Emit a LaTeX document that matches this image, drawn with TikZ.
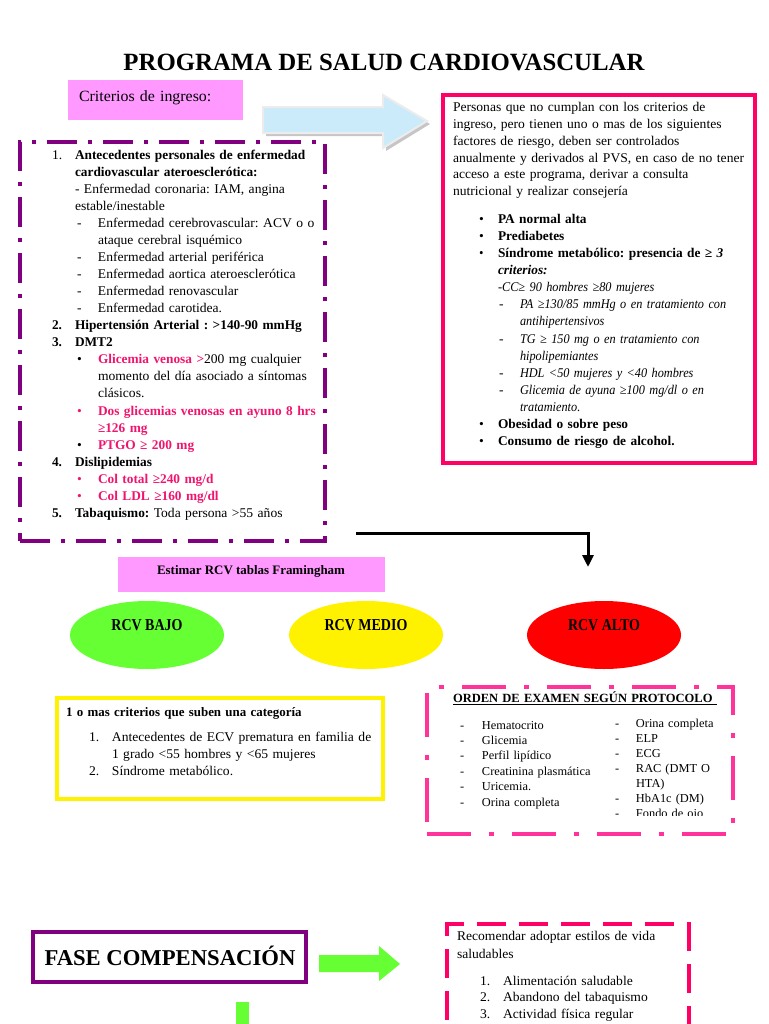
\documentclass[tikz,border=0pt]{standalone}
\usepackage{fontspec}
\setmainfont{Liberation Serif}[UprightFeatures={FakeStretch=1.02}, ItalicFeatures={FakeStretch=0.92}]
\newfontfamily\tms{Liberation Serif}
\usepackage{graphicx}
\usetikzlibrary{shapes.geometric,arrows.meta}
\definecolor{purp}{RGB}{128,0,128}
\definecolor{pinkfill}{RGB}{255,153,255}
\definecolor{rosa}{RGB}{255,0,102}
\definecolor{rosab}{RGB}{255,51,153}
\definecolor{txtpink}{RGB}{240,20,110}
\definecolor{lgreen}{RGB}{102,255,51}
\definecolor{lblue}{RGB}{204,235,250}
\newcommand{\fsz}[2]{\fontsize{#1}{#2}\selectfont}
\newcommand{\nA}[1]{\makebox[17.25pt][l]{#1}}
\newcommand{\sA}[1]{\hspace*{18.75pt}\makebox[15.75pt][l]{#1}}
\newcommand{\cA}{\hspace*{34.5pt}}
\newcommand{\pk}[1]{\textcolor{txtpink}{#1}}
\newcommand{\boxnode}[6]{\node[#1, inner sep=0pt, outer sep=0pt, anchor=north west, minimum width={(#4-#2)*0.75pt}, minimum height={(#5-#3)*0.75pt}] (#6) at (#2,#3) {};}
\tikzset{
  x=0.75pt, y=-0.75pt,
  txt/.style={inner sep=0pt, outer sep=0pt, anchor=base west, text width=300pt, align=left},
  purpbox/.style={draw=purp, line width=3pt, dash pattern=on 22.5pt off 8.25pt on 3pt off 8.25pt},
  rosabox/.style={draw=rosa, line width=3pt},
  ordenbox/.style={draw=rosab, line width=3.2pt, dash pattern=on 33pt off 13.5pt on 3.75pt off 13.5pt},
  vidabox/.style={draw=rosa, line width=3pt, dash pattern=on 21.75pt off 9.75pt},
  yelbox/.style={draw=yellow, line width=2.5pt},
  pinkbox/.style={fill=pinkfill},
  fasebox/.style={draw=purp, line width=2.5pt},
  rcv/.style={ellipse, inner sep=0pt, minimum width=115.5pt, minimum height=51pt},
  rcvtxt/.style={font=\tms\bfseries\fsz{12.5}{14}, inner sep=0pt},
  conn/.style={line width=2.25pt, -{Triangle[length=9pt,width=8.25pt]}},
}
\begin{document}
\frenchspacing
\begin{tikzpicture}
\useasboundingbox (0,0) rectangle (768,1024);
\clip (0,0) rectangle (768,1024);

% title
\node[font=\tms\bfseries\fsz{18.6}{20}, inner sep=0pt] (title) at (384,62) {PROGRAMA DE SALUD CARDIOVASCULAR};

% criterios de ingreso
\boxnode{pinkbox}{68}{80}{243}{120}{crit}
\node[txt, font=\fsz{11.7}{13}] (crittitle) at (79,102) {Criterios de ingreso:};

% blue block arrow
\fill[gray!45, shift={(3,3)}] (263,107) -- (383,107) -- (383,95) -- (427,121) -- (383,148) -- (383,133) -- (263,133) -- cycle;
\filldraw[fill=lblue, draw=gray!15, line width=1.5pt] (263,107) -- (383,107) -- (383,95) -- (427,121) -- (383,148) -- (383,133) -- (263,133) -- cycle;

% purple criteria box
\boxnode{purpbox}{20}{142}{325}{541}{critbox}
\node[txt, font=\fsz{10}{12.8}] (crittxt) at (52,159) {%
\nA{1.}\textbf{Antecedentes personales de enfermedad}\\
\hspace*{17.25pt}\textbf{cardiovascular ateroesclerótica:}\\
\hspace*{17.25pt}- Enfermedad coronaria: IAM, angina\\
\hspace*{17.25pt}estable/inestable\\
\sA{-}Enfermedad cerebrovascular: ACV o o\\
\cA ataque cerebral isquémico\\
\sA{-}Enfermedad arterial periférica\\
\sA{-}Enfermedad aortica ateroesclerótica\\
\sA{-}Enfermedad renovascular\\
\sA{-}Enfermedad carotidea.\\
\nA{\textbf{2.}}\textbf{Hipertensión Arterial : >140-90 mmHg}\\
\nA{\textbf{3.}}\textbf{DMT2}\\
\sA{\textbullet}\pk{\textbf{Glicemia venosa >}}200 mg cualquier\\
\cA momento del día asociado a síntomas\\
\cA clásicos.\\
\sA{\pk{\textbullet}}\pk{\textbf{Dos glicemias venosas en ayuno 8 hrs}}\\
\cA\pk{\textbf{≥126 mg}}\\
\sA{\textbullet}\pk{\textbf{PTGO ≥ 200 mg}}\\
\nA{\textbf{4.}}\textbf{Dislipidemias}\\
\sA{\pk{\textbullet}}\pk{\textbf{Col total ≥240 mg/d}}\\
\sA{\pk{\textbullet}}\pk{\textbf{Col LDL ≥160 mg/dl}}\\
\nA{\textbf{5.}}\textbf{Tabaquismo:} Toda persona >55 años};

% right pink box
\boxnode{rosabox}{443}{95}{755}{463}{factbox}
\node[txt, font=\fsz{10}{12.5}] (perstxt) at (453,112) {%
Personas que no cumplan con los criterios de\\
ingreso, pero tienen uno o mas de los siguientes\\
factores de riesgo, deben ser controlados\\
anualmente y derivados al PVS, en caso de no tener\\
acceso a este programa, derivar a consulta\\
nutricional y realizar consejería};
\node[txt, font=\fsz{10}{12.86}] (factxt) at (479,223) {%
\makebox[14.25pt][l]{\textbullet}\textbf{PA normal alta}\\
\makebox[14.25pt][l]{\textbullet}\textbf{Prediabetes}\\
\makebox[14.25pt][l]{\textit{\textbullet}}\textbf{Síndrome metabólico: presencia de \textit{≥ 3}}\\
\hspace*{14.25pt}\textbf{\textit{criterios:}}\\
\hspace*{14.25pt}\textit{-CC≥ 90 hombres ≥80 mujeres}\\
\hspace*{15pt}\makebox[15.75pt][l]{-}\textit{PA ≥130/85 mmHg o en tratamiento con}\\
\hspace*{30.75pt}\textit{antihipertensivos}\\
\hspace*{15pt}\makebox[15.75pt][l]{-}\textit{TG ≥ 150 mg o en tratamiento con}\\
\hspace*{30.75pt}\textit{hipolipemiantes}\\
\hspace*{15pt}\makebox[15.75pt][l]{-}\textit{HDL <50 mujeres y <40 hombres}\\
\hspace*{15pt}\makebox[15.75pt][l]{-}\textit{Glicemia de ayuna ≥100 mg/dl o en}\\
\hspace*{30.75pt}\textit{tratamiento.}\\
\makebox[14.25pt][l]{\textbullet}\textbf{Obesidad o sobre peso}\\
\makebox[14.25pt][l]{\textbullet}\textbf{Consumo de riesgo de alcohol.}};

% connector
\coordinate (c1) at (356,533);
\coordinate (c2) at (588,533);
\coordinate (c3) at (588,567);
\draw[conn] (c1) -- (c2) -- (c3);

% estimar
\boxnode{pinkbox}{118}{557}{385}{592}{estimar}
\node[font=\bfseries\fsz{9.7}{11}, inner sep=0pt] (esttxt) at (251,571) {Estimar RCV tablas Framingham};

% ellipses
\node[rcv, fill=lgreen] (bajo) at (147,635) {};
\node[rcv, fill=yellow] (medio) at (366,635) {};
\node[rcv, fill=red] (alto) at (604,635) {};
\node[rcvtxt] (bajotxt) at (147,625) {\scalebox{0.84}[1]{RCV BAJO}};
\node[rcvtxt] (mediotxt) at (366,625) {\scalebox{0.84}[1]{RCV MEDIO}};
\node[rcvtxt] (altotxt) at (604,625) {\scalebox{0.84}[1]{RCV ALTO}};

% yellow box
\boxnode{yelbox}{57}{698}{383}{799}{ybox}
\node[txt, font=\bfseries\fsz{9.7}{12}] (ytitle) at (66,716) {1 o mas criterios que suben una categoría};
\node[txt, font=\fsz{10}{12.75}] (ylist) at (89,741) {%
\makebox[17.25pt][l]{1.}Antecedentes de ECV prematura en familia de\\
\hspace*{17.25pt}1 grado <55 hombres y <65 mujeres\\
\makebox[17.25pt][l]{2.}Síndrome metabólico.};

% orden box
\boxnode{ordenbox}{427}{687}{733}{834}{obox}
\node[txt, font=\tms\bfseries\fsz{9.4}{11}] (otitle) at (453,702) {\underline{ORDEN DE EXAMEN SEGÚN PROTOCOLO\ }};
\node[txt, font=\fsz{9.1}{11.55}] (oleft) at (460,729) {%
\makebox[16.5pt][l]{-}Hematocrito\\
\makebox[16.5pt][l]{-}Glicemia\\
\makebox[16.5pt][l]{-}Perfil lipídico\\
\makebox[16.5pt][l]{-}Creatinina plasmática\\
\makebox[16.5pt][l]{-}Uricemia.\\
\makebox[16.5pt][l]{-}Orina completa};
\begin{scope}
\clip (600,705) rectangle (730,815);
\node[txt, font=\fsz{9.1}{11.25}] (oright) at (615,727) {%
\makebox[15.75pt][l]{-}Orina completa\\
\makebox[15.75pt][l]{-}ELP\\
\makebox[15.75pt][l]{-}ECG\\
\makebox[15.75pt][l]{-}RAC (DMT O\\
\hspace*{15.75pt}HTA)\\
\makebox[15.75pt][l]{-}HbA1c (DM)\\
\makebox[15.75pt][l]{-}Fondo de ojo};
\end{scope}

% fase compensacion
\boxnode{fasebox}{33}{932}{306}{982}{fase}
\node[font=\tms\bfseries\fsz{17}{19}, inner sep=0pt] (fasetxt) at (170,956) {FASE COMPENSACIÓN};
\fill[lgreen] (319,955) -- (379,955) -- (379,946) -- (400,964) -- (379,981) -- (379,972) -- (319,972) -- cycle;
\fill[lgreen] (236,1002) rectangle (249,1030);

% vida box
\boxnode{vidabox}{447}{924}{689}{1045}{vbox}
\node[txt, font=\fsz{10}{13.5}] (vtxt) at (457,940) {Recomendar adoptar estilos de vida\\ saludables};
\node[txt, font=\fsz{10}{12.4}] (vlist) at (480,985) {%
\makebox[17.25pt][l]{1.}Alimentación saludable\\
\makebox[17.25pt][l]{2.}Abandono del tabaquismo\\
\makebox[17.25pt][l]{3.}Actividad física regular};
\end{tikzpicture}
\end{document}
